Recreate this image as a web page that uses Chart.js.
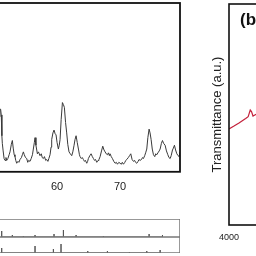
<!DOCTYPE html>
<html>
<head>
<meta charset="utf-8">
<script src="https://cdn.jsdelivr.net/npm/chart.js@4"></script>
<style>
  html, body { margin: 0; padding: 0; background: #fff; }
  body { width: 256px; height: 256px; overflow: hidden; position: relative; }
  .box { position: absolute; }
  #label-b { position: absolute; left: 240px; top: 10px; font: bold 17px "Liberation Sans", Arial, sans-serif; color: #111; white-space: nowrap; }
</style>
</head>
<body>
<div class="box" style="left:-24px; top:0; width:208px; height:205px"><canvas id="xrd"></canvas></div>
<div class="box" style="left:-6px; top:219px; width:186px; height:18px"><canvas id="stickA"></canvas></div>
<div class="box" style="left:-6px; top:237px; width:186px; height:16px"><canvas id="stickB"></canvas></div>
<div class="box" style="left:200px; top:0; width:335px; height:250px"><canvas id="ftir"></canvas></div>
<div id="label-b">(b)</div>
<script>
// XRD pattern (2theta, intensity a.u.)
const xrdAngle = [50.80, 50.95, 51.05, 51.15, 51.25, 51.32, 51.45, 51.60, 51.75, 51.90, 52.01, 52.20, 52.40, 52.54, 52.75, 52.91, 53.05, 53.20, 53.33, 53.45, 53.60, 53.80, 53.95, 54.13, 54.35, 54.50, 54.66, 54.80, 55.00, 55.19, 55.35, 55.50, 55.71, 55.90, 56.10, 56.24, 56.40, 56.51, 56.65, 56.88, 57.05, 57.30, 57.50, 57.65, 57.83, 58.00, 58.20, 58.36, 58.55, 58.70, 58.89, 59.05, 59.15, 59.35, 59.52, 59.70, 59.84, 60.00, 60.21, 60.35, 60.48, 60.65, 60.85, 61.00, 61.16, 61.35, 61.53, 61.70, 61.90, 62.10, 62.33, 62.50, 62.70, 62.85, 63.02, 63.20, 63.39, 63.55, 63.65, 63.85, 64.00, 64.18, 64.35, 64.50, 64.71, 64.85, 64.97, 65.20, 65.40, 65.60, 65.77, 65.95, 66.10, 66.30, 66.50, 66.65, 66.83, 67.05, 67.25, 67.45, 67.62, 67.80, 67.99, 68.15, 68.30, 68.41, 68.60, 68.78, 69.00, 69.21, 69.40, 69.58, 69.80, 70.00, 70.20, 70.35, 70.53, 70.75, 70.90, 71.06, 71.30, 71.50, 71.69, 71.90, 72.12, 72.30, 72.45, 72.65, 72.85, 73.00, 73.17, 73.40, 73.55, 73.70, 73.90, 74.05, 74.23, 74.40, 74.60, 74.75, 74.92, 75.10, 75.29, 75.50, 75.65, 75.82, 76.00, 76.20, 76.35, 76.55, 76.72, 76.90, 77.14, 77.35, 77.57, 77.75, 77.94, 78.10, 78.31, 78.45, 78.62, 78.80, 79.00, 79.20, 79.37, 79.52]
const xrdIntensity = [58, 66, 66, 60, 38, 30, 22, 14, 12, 15, 12, 14, 18, 21, 29, 33, 25, 18, 16, 12, 9, 11, 10, 13, 15, 18, 21, 18, 15, 14, 10, 12, 11, 14, 18, 24, 31, 36, 28, 19, 21, 17, 19, 15, 14, 16, 12, 13, 11, 14, 18, 26, 34, 41, 44, 40, 39, 31, 24, 28, 34, 55, 73, 71, 68, 52, 41, 29, 21, 19, 17, 21, 28, 34, 38, 31, 24, 18, 16, 14, 15, 13, 11, 12, 9, 11, 14, 17, 19, 16, 14, 12, 13, 10, 12, 13, 16, 22, 27, 23, 21, 19, 18, 20, 17, 19, 16, 14, 11, 9, 10, 8, 10, 9, 8, 10, 8, 10, 12, 13, 15, 17, 19, 13, 11, 12, 10, 9, 11, 13, 12, 13, 15, 14, 17, 20, 24, 36, 45, 41, 34, 24, 18, 16, 19, 18, 20, 22, 24, 30, 33, 30, 28, 22, 18, 15, 14, 17, 23, 25, 28, 23, 19, 17, 16, 21]
const xrdTicks = [50, 60, 70]

// reference stick patterns
const stickAngleA = [51.22, 52.91, 54.66, 56.51, 59.52, 61.01, 63.02, 67.35, 74.60, 76.72]
const stickHeightA = [6, 2, 1, 2, 3, 7, 2, 1, 3, 2]
const stickAngleB = [51.22, 56.51, 59.42, 60.63, 64.87, 67.99, 71.48, 74.23, 76.35]
const stickHeightB = [5, 7, 4, 9, 2, 2, 1, 2, 3]

// FTIR (wavenumber, transmittance a.u.)
const ftirWave = [4000, 3940, 3880, 3840, 3800, 3770, 3745, 3730, 3712, 3690, 3660, 3600, 3500, 3400, 3300]
const ftirTrans = [43.5, 44.8, 46.2, 47.2, 48.2, 49.0, 52.0, 51.3, 49.3, 49.8, 50.4, 49.6, 47.0, 45.5, 46.8]
const ftirTicks = [4000, 3000, 2000, 1000]

const font = "'Liberation Sans', Arial, sans-serif"

const frame = (color, width) => ({
   id: "frame",
   afterDraw: chart => {
      const a = chart.chartArea
      const ctx = chart.ctx
      ctx.save()
      ctx.strokeStyle = color
      ctx.lineWidth = width
      ctx.strokeRect(a.left, a.top, a.right - a.left, a.bottom - a.top)
      ctx.restore()
   }
})

new Chart(document.getElementById("xrd"), {
   type: "line",
   data: {
      datasets: [{
         data: xrdAngle.map((x, i) => ({x: x, y: xrdIntensity[i]})),
         borderColor: "#3a3a3a",
         borderWidth: 1,
         pointRadius: 0,
         tension: 0,
      }]
   },
   options: {
      animation: false,
      responsive: true,
      maintainAspectRatio: false,
      layout: {padding: {left: 18, right: 4, top: 3, bottom: 2}},
      plugins: {legend: {display: false}, tooltip: {enabled: false}},
      scales: {
         x: {
            type: "linear",
            min: 50,
            max: 79.5,
            afterBuildTicks: s => { s.ticks = xrdTicks.map(v => ({value: v})) },
            grid: {display: false, drawTicks: false},
            border: {display: false},
            ticks: {padding: 9, color: "#222", maxRotation: 0,
               font: {size: 11, family: font}, callback: v => String(v)},
         },
         y: {display: false, min: 0, max: 178}
      }
   },
   plugins: [frame("#111", 1.8)]
})

function stickChart(id, angles, heights, maxY) {
   const pts = []
   angles.forEach((x, i) => {
      pts.push({x: x, y: 0}, {x: x, y: heights[i]}, {x: x, y: 0})
   })
   new Chart(document.getElementById(id), {
      type: "line",
      data: {datasets: [{data: pts, borderColor: "#555", borderWidth: 1, pointRadius: 0, tension: 0}]},
      options: {
         animation: false,
         responsive: true,
         maintainAspectRatio: false,
         layout: {padding: 0},
         plugins: {legend: {display: false}, tooltip: {enabled: false}},
         scales: {
            x: {type: "linear", display: false, min: 50, max: 79.5},
            y: {display: false, min: 0, max: maxY}
         }
      },
      plugins: [frame("#777", 1.5)]
   })
}

stickChart("stickA", stickAngleA, stickHeightA, 18)
stickChart("stickB", stickAngleB, stickHeightB, 16)

new Chart(document.getElementById("ftir"), {
   type: "line",
   data: {
      datasets: [{
         data: ftirWave.map((x, i) => ({x: x, y: ftirTrans[i]})),
         borderColor: "#c3203a",
         borderWidth: 1.2,
         pointRadius: 0,
         tension: 0,
      }]
   },
   options: {
      animation: false,
      responsive: true,
      maintainAspectRatio: false,
      layout: {padding: {left: 6, right: 6, top: 4, bottom: 2}},
      plugins: {legend: {display: false}, tooltip: {enabled: false}},
      scales: {
         x: {
            type: "linear",
            reverse: true,
            min: 400,
            max: 4000,
            afterBuildTicks: s => { s.ticks = ftirTicks.map(v => ({value: v})) },
            afterFit: s => { s.height = 23 },
            grid: {display: false, drawTicks: false},
            border: {display: false},
            ticks: {padding: 7, color: "#222", maxRotation: 0, autoSkip: false,
               font: {size: 9, family: font}, callback: v => String(v)},
         },
         y: {
            min: 0,
            max: 100,
            grid: {display: false, drawTicks: false},
            border: {display: false},
            ticks: {display: false},
            title: {display: true, text: "Transmittance (a.u.)", color: "#222",
               font: {size: 13, family: font}, padding: 4},
            afterFit: s => { s.width = 23 }
         }
      }
   },
   plugins: [frame("#111", 1.6)]
})
</script>
</body>
</html>
